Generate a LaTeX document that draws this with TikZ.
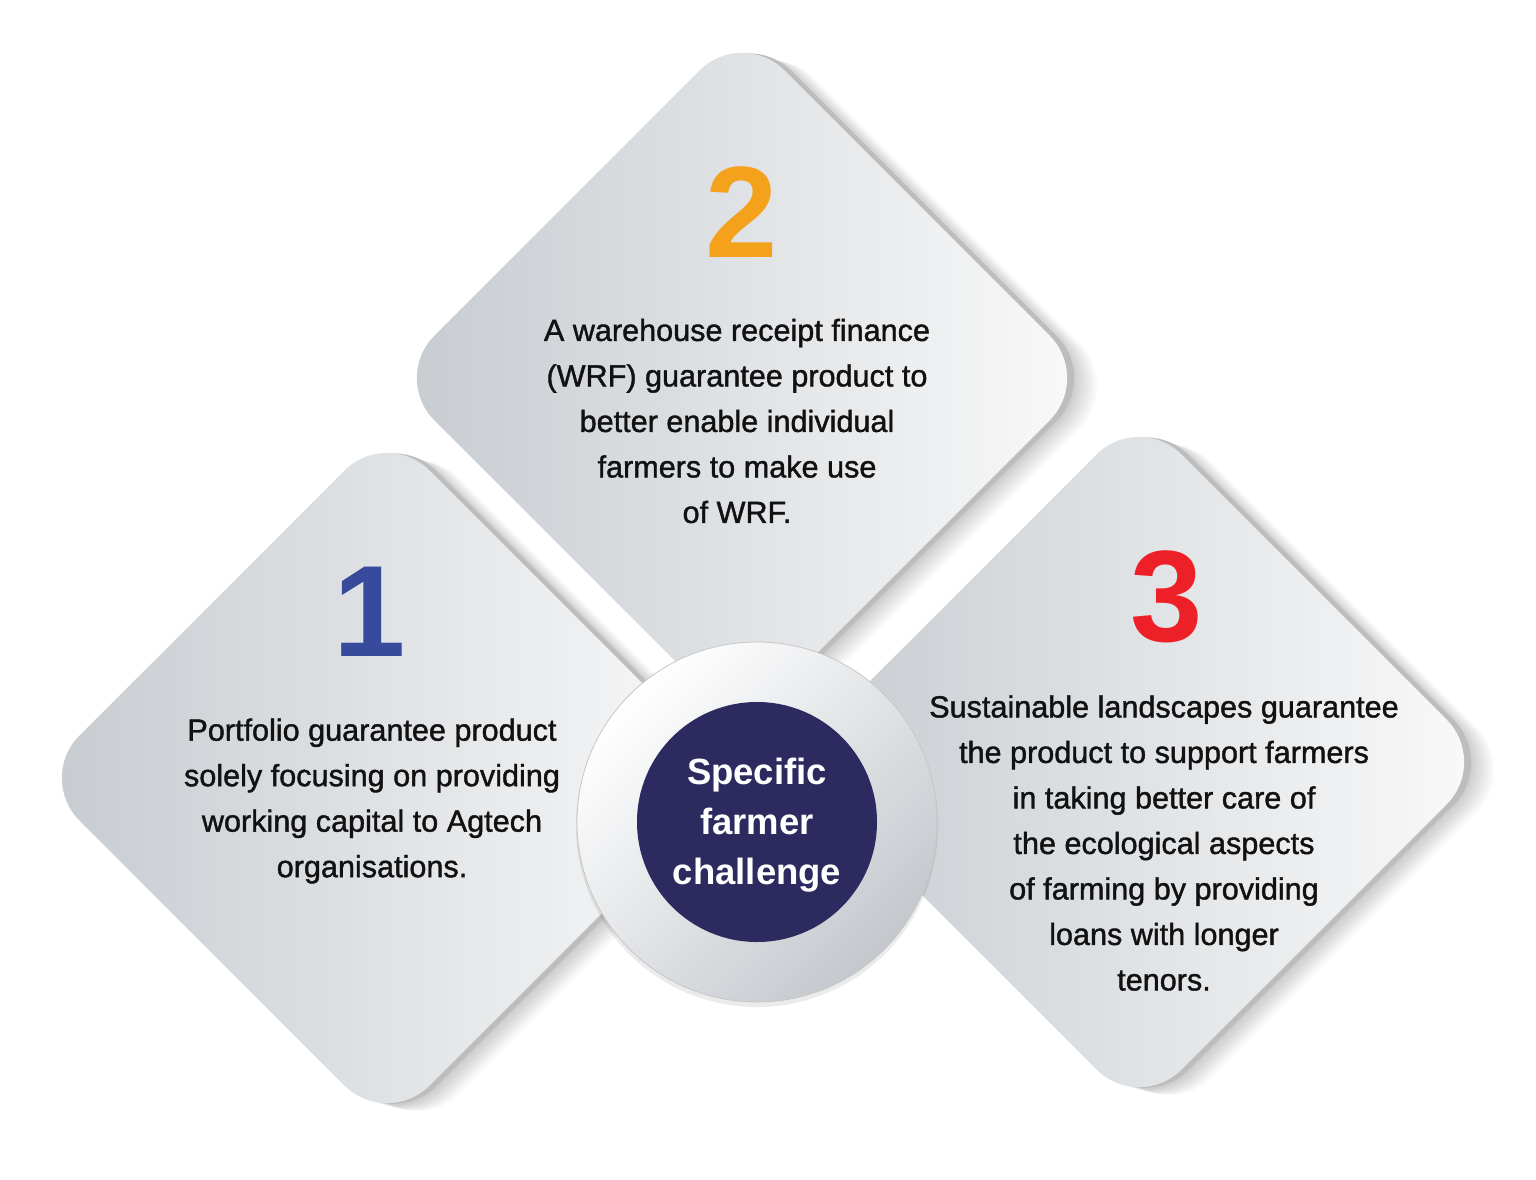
\documentclass[tikz,border=0pt]{standalone}
\usepackage{fontspec}
\setmainfont{Liberation Sans}
\newfontfamily\medfont{Liberation Sans}[FakeBold=1.3]
\definecolor{dgray}{HTML}{C6CBD0}
\definecolor{lgray}{HTML}{FAFAFA}
\definecolor{navy}{HTML}{2C2A5E}
\definecolor{orangeN}{HTML}{F4A11C}
\definecolor{blueN}{HTML}{384A9C}
\definecolor{redN}{HTML}{EE2027}
\definecolor{ringdark}{HTML}{C4C8CD}
\definecolor{rimc}{HTML}{BDBDBD}
\definecolor{textc}{HTML}{111111}
\tikzset{
  dtext/.style={font=\medfont\fontsize{30.6}{45.5}\selectfont, align=center, text=textc, inner sep=0pt},
  numtext/.style={font=\bfseries\fontsize{130}{130}\selectfont, inner sep=0pt},
  ctext/.style={font=\bfseries\fontsize{36.5}{50}\selectfont, align=center, text=white, inner sep=0pt},
  dshape/.style={rounded corners=60pt},
}
\newcommand\mydiamond[2]{%
  \begin{scope}[shift={(#1,#2)}]
    \foreach \k in {1,...,10} {
      \begin{scope}[shift={(3*\k,0.8*\k)}]
        \fill[black, opacity=0.025, dshape] (-175,-175) -- (0,-350) -- (350,0) -- (0,350) -- (-350,0) -- cycle;
      \end{scope}
    }
    \begin{scope}[shift={(7,0.5)}]
      \fill[rimc, dshape] (-175,-175) -- (0,-350) -- (350,0) -- (0,350) -- (-350,0) -- cycle;
    \end{scope}
    \shade[left color=dgray, right color=lgray, dshape] (-175,-175) -- (0,-350) -- (350,0) -- (0,350) -- (-350,0) -- cycle;
  \end{scope}
}
\begin{document}
\begin{tikzpicture}[x=1pt, y=-1pt]
\fill[white] (0,0) rectangle (1536,1180);
\useasboundingbox (0,0) rectangle (1536,1180);

\mydiamond{742}{378}
\mydiamond{387}{778}
\mydiamond{1139}{762}

% numbers
\node[numtext, text=orangeN] (n2) at (742,212) {2};
\node[numtext, text=blueN] (n1) at (370,612) {1};
\node[numtext, text=redN] (n3) at (1167,597) {3};

% texts
\node[dtext] (t2) at (737,421) {A warehouse receipt finance\\(WRF) guarantee product to\\better enable individual\\farmers to make use\\of WRF.};
\node[dtext] (t1) at (372,801) {Portfolio guarantee product\\solely focusing on providing\\working capital to Agtech\\organisations.};
\node[dtext] (t3) at (1164,843) {Sustainable landscapes guarantee\\the product to support farmers\\in taking better care of\\the ecological aspects\\of farming by providing\\loans with longer\\tenors.};

% centre
\fill[black, opacity=0.08] (757,826) circle (181);
\node[circle, minimum size=360pt, inner sep=0pt, top color=white, bottom color=ringdark, shading angle=45, draw=black!22, line width=0.8pt] (ring) at (757,822) {};
\node[circle, minimum size=240pt, inner sep=0pt, fill=navy] (core) at (757,822) {};
\node[ctext] (ct) at (757,825) {Specific\\farmer\\challenge};
\end{tikzpicture}
\end{document}
